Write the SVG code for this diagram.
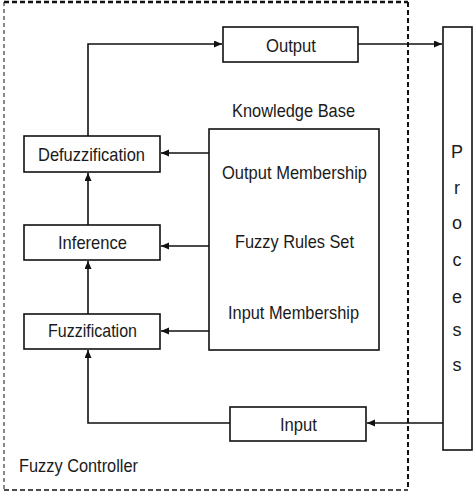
<svg xmlns="http://www.w3.org/2000/svg" width="474" height="493" viewBox="0 0 474 493">
<style>
.box{fill:#fff;stroke:#111;stroke-width:1.6}
.t{font-family:"Liberation Sans",Arial,sans-serif;font-size:19px;fill:#1a1a1a}
.p{font-family:"Liberation Sans",Arial,sans-serif;font-size:18px;fill:#1a1a1a}
.c{stroke:#111;stroke-width:1.6;fill:none}
.d{stroke:#111;fill:none}
</style>
<defs>
<marker id="ah" markerUnits="userSpaceOnUse" markerWidth="9" markerHeight="8" refX="8" refY="3.5" orient="auto">
<path d="M0,0 L8,3.5 L0,7 z" fill="#111"/>
</marker>
</defs>
<rect width="474" height="493" fill="#fff"/>
<g id="controller-border">
<line class="d" x1="4" y1="2" x2="408" y2="2" stroke-width="2.6" stroke-dasharray="5,3"/>
<line class="d" x1="408" y1="2" x2="408" y2="490" stroke-width="2" stroke-dasharray="5,3"/>
<line class="d" x1="4" y1="490" x2="408" y2="490" stroke-width="1.5" stroke-dasharray="5,3"/>
<line class="d" x1="4" y1="2" x2="4" y2="490" stroke-width="1" stroke-dasharray="4,3"/>
<text class="t" x="19" y="472" textLength="119" lengthAdjust="spacingAndGlyphs">Fuzzy Controller</text>
</g>
<g id="connectors">
<polyline class="c" points="88,136 88,44 222,44" marker-end="url(#ah)"/>
<line class="c" x1="358" y1="44" x2="442" y2="44" marker-end="url(#ah)"/>
<line class="c" x1="209" y1="153" x2="161" y2="153" marker-end="url(#ah)"/>
<line class="c" x1="209" y1="246" x2="161" y2="246" marker-end="url(#ah)"/>
<line class="c" x1="209" y1="331" x2="161" y2="331" marker-end="url(#ah)"/>
<line class="c" x1="88" y1="225" x2="88" y2="173" marker-end="url(#ah)"/>
<line class="c" x1="88" y1="314" x2="88" y2="261" marker-end="url(#ah)"/>
<line class="c" x1="443" y1="423" x2="367" y2="423" marker-end="url(#ah)"/>
<polyline class="c" points="230,423 88,423 88,350" marker-end="url(#ah)"/>
</g>
<g id="output">
<rect class="box" x="223" y="27" width="135" height="35"/>
<text class="t" x="266" y="52" textLength="50" lengthAdjust="spacingAndGlyphs">Output</text>
</g>
<g id="knowledge-base">
<text class="t" x="232" y="117" textLength="123" lengthAdjust="spacingAndGlyphs">Knowledge Base</text>
<rect class="box" x="209" y="129" width="170" height="221"/>
<text class="t" x="222" y="179" textLength="145" lengthAdjust="spacingAndGlyphs">Output Membership</text>
<text class="t" x="235" y="248" textLength="119" lengthAdjust="spacingAndGlyphs">Fuzzy Rules Set</text>
<text class="t" x="228" y="319" textLength="131" lengthAdjust="spacingAndGlyphs">Input Membership</text>
</g>
<g id="defuzzification">
<rect class="box" x="24" y="136" width="136" height="36"/>
<text class="t" x="38" y="161" textLength="107" lengthAdjust="spacingAndGlyphs">Defuzzification</text>
</g>
<g id="inference">
<rect class="box" x="24" y="225" width="136" height="35"/>
<text class="t" x="58" y="249" textLength="69" lengthAdjust="spacingAndGlyphs">Inference</text>
</g>
<g id="fuzzification">
<rect class="box" x="24" y="314" width="136" height="35"/>
<text class="t" x="48" y="337" textLength="89" lengthAdjust="spacingAndGlyphs">Fuzzification</text>
</g>
<g id="input">
<rect class="box" x="230" y="407" width="136" height="34"/>
<text class="t" x="280" y="431" textLength="37" lengthAdjust="spacingAndGlyphs">Input</text>
</g>
<g id="process">
<rect class="box" x="443" y="27" width="29" height="423"/>
<text class="p" text-anchor="middle" x="457" y="158">P</text>
<text class="p" text-anchor="middle" x="457" y="194">r</text>
<text class="p" text-anchor="middle" x="457" y="229">o</text>
<text class="p" text-anchor="middle" x="457" y="266">c</text>
<text class="p" text-anchor="middle" x="457" y="303">e</text>
<text class="p" text-anchor="middle" x="457" y="336">s</text>
<text class="p" text-anchor="middle" x="457" y="371">s</text>
</g>
</svg>
